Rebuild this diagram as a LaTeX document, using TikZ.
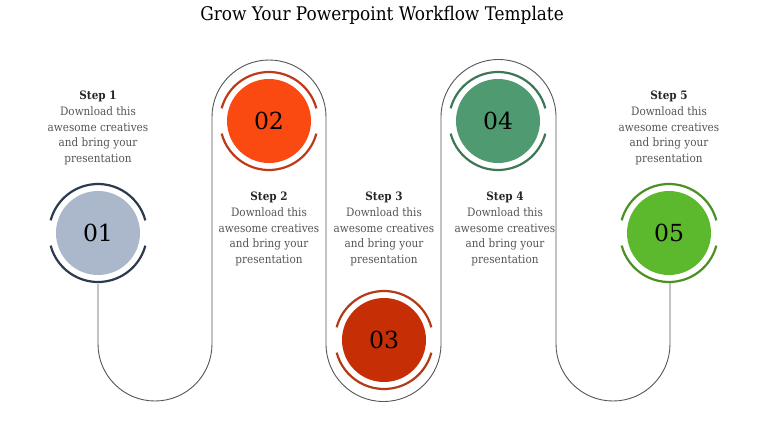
\documentclass[tikz,border=0pt]{standalone}
\usepackage{fontspec}
\setmainfont{DejaVu Serif Condensed}
\newfontfamily\numfont{DejaVu Serif}
\definecolor{fillA}{HTML}{ABB8CC}\definecolor{ringA}{HTML}{2B3A4F}
\definecolor{fillB}{HTML}{FA4A12}\definecolor{ringB}{HTML}{BD3A18}
\definecolor{fillC}{HTML}{C62E06}\definecolor{ringC}{HTML}{B33A15}
\definecolor{fillD}{HTML}{4F9A70}\definecolor{ringD}{HTML}{3C7856}
\definecolor{fillE}{HTML}{5CB82C}\definecolor{ringE}{HTML}{4C9024}
\definecolor{track}{HTML}{555555}
\definecolor{desc}{HTML}{555555}
\definecolor{steptxt}{HTML}{262626}
\tikzset{
  numdisc/.style={circle,minimum size=84pt,inner sep=0pt,font=\numfont\fontsize{23.5}{23.5}\selectfont,text=black},
  ringarc/.style={line width=2.2pt},
  stepblock/.style={align=center,inner sep=0pt,text=desc,font=\fontsize{11.6}{15.6}\selectfont},
  trackline/.style={draw=track,line width=0.9pt}
}
\newcommand{\steptext}[1]{{\color{steptxt}\fontsize{11.6}{15.6}\selectfont\bfseries Step #1}\\Download this\\awesome creatives\\and bring your\\presentation}
\begin{document}
\begin{tikzpicture}[x=1pt,y=-1pt]
\useasboundingbox (0,0) rectangle (768,433);
\node[font=\fontsize{18.8}{18.8}\selectfont,text=black] (title) at (382,15) {Grow Your Powerpoint Workflow Template};
% discs
\node[numdisc,fill=fillA] (c1) at (98,233) {01};
\node[numdisc,fill=fillB] (c2) at (269,121) {02};
\node[numdisc,fill=fillC] (c3) at (384,340) {03};
\node[numdisc,fill=fillD] (c4) at (498,121) {04};
\node[numdisc,fill=fillE] (c5) at (669,233) {05};
% rings
\foreach \n/\c in {c1/ringA,c2/ringB,c3/ringC,c4/ringD,c5/ringE}{
  \draw[ringarc,draw=\c] ([shift={(15:49pt)}]\n.center) arc[start angle=15,end angle=165,radius=49pt];
  \draw[ringarc,draw=\c] ([shift={(195:49pt)}]\n.center) arc[start angle=195,end angle=345,radius=49pt];
}
% track
\coordinate (t0) at (98,284);
\coordinate (t1) at (670,283);
\draw[trackline] (t0) -- (98,344) arc[start angle=180,end angle=360,radius=57pt]
  -- (212,117) arc[start angle=180,end angle=0,radius=57pt]
  -- (326,344) arc[start angle=180,end angle=360,radius=57.5pt]
  -- (441,117) arc[start angle=180,end angle=0,radius=57.5pt]
  -- (556,344) arc[start angle=180,end angle=360,radius=57pt]
  -- (t1);
% texts
\node[stepblock] (s1) at (98,128) {\steptext{1}};
\node[stepblock] (s2) at (269,229) {\steptext{2}};
\node[stepblock] (s3) at (384,229) {\steptext{3}};
\node[stepblock] (s4) at (505,229) {\steptext{4}};
\node[stepblock] (s5) at (669,128) {\steptext{5}};
\end{tikzpicture}
\end{document}
